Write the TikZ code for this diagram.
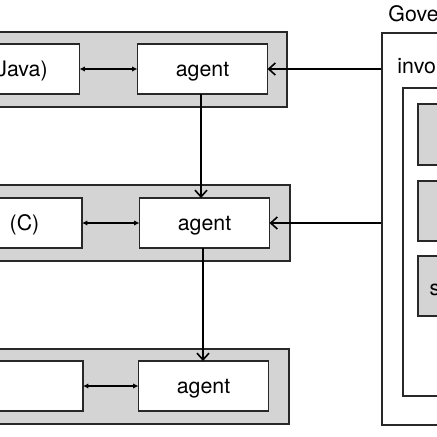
\documentclass[tikz,border=0pt]{standalone}
\usepackage{fontspec}
\setmainfont{TeX Gyre Heros}
\usetikzlibrary{arrows.meta}

\definecolor{panelgray}{RGB}{212,212,212}
\definecolor{edgegray}{RGB}{40,40,40}

\tikzset{every picture/.style={line width=0.75pt}}
\tikzset{
  panel/.style={draw=edgegray, fill=panelgray, line width=1.2pt},
  whitebox/.style={draw=edgegray, fill=white, line width=1.2pt, inner sep=0pt, outer sep=0pt,
    minimum height=37.5pt, text depth=0pt, font=\fontsize{16}{18}\selectfont},
  agentbox/.style={whitebox, minimum width=97.5pt},
  sidebox/.style={whitebox, minimum width=86.25pt},
  pairlink/.style={draw=black, line width=0.8pt, {Latex[length=4pt,width=4pt]}-{Latex[length=4pt,width=4pt]}},
  downlink/.style={draw=black, line width=1.2pt, -{Straight Barb[length=5pt,width=9pt]}},
  label/.style={inner sep=0pt, anchor=base west, font=\fontsize{16}{18}\selectfont}
}

\begin{document}
\begin{tikzpicture}[x=0.75pt,y=0.75pt,yscale=-1,xscale=1]
\useasboundingbox (0,0) rectangle (437,437);

%Shape: Rectangle [rows]
\draw [panel] (-50,32) rectangle (287,107);
\draw [panel] (-50,185) rectangle (290,261);
\draw [panel] (-50,349) rectangle (289,424);

%Shape: Rectangle [governance]
\node [draw=edgegray, line width=1.2pt, inner sep=0pt, minimum width=66pt, minimum height=294pt] (gov) at (426,229) {};
\draw [draw=edgegray, line width=1.2pt] (403,88) rectangle (480,396);
\draw [panel] (418,104) rectangle (480,165);
\draw [panel] (418,181) rectangle (480,241);
\draw [panel] (418,256) rectangle (480,316);

% Text Node
\node [sidebox] (javaBox) at (22,69) {Java)};
\node [agentbox] (agentA) at (202.5,69) {agent};
\node [sidebox] (cBox) at (24.5,223) {(C)};
\node [agentbox] (agentB) at (204.5,223) {agent};
\node [sidebox] (lastBox) at (25.5,386) {};
\node [agentbox] (agentC) at (203.5,386) {agent};

% Text Node
\node [label] (govTitle) at (388,21) {Gove};
\node [label] (govInvol) at (397,73) {invol};
\node [label] (govItem) at (429,295) {s};

%Straight Lines
\draw [pairlink] (javaBox.east) -- (agentA.west);
\draw [pairlink] (cBox.east) -- (agentB.west);
\draw [pairlink] (lastBox.east) -- (agentC.west);

%Straight Lines
\draw [downlink] (agentA.south -| 201,0) -- (agentB.north -| 201,0);
\draw [downlink] (agentB.south -| 203,0) -- (agentC.north -| 203,0);

%Straight Lines
\draw [downlink] (gov.west |- agentA.east) -- (agentA.east);
\draw [downlink] (gov.west |- agentB.east) -- (agentB.east);

\end{tikzpicture}
\end{document}
